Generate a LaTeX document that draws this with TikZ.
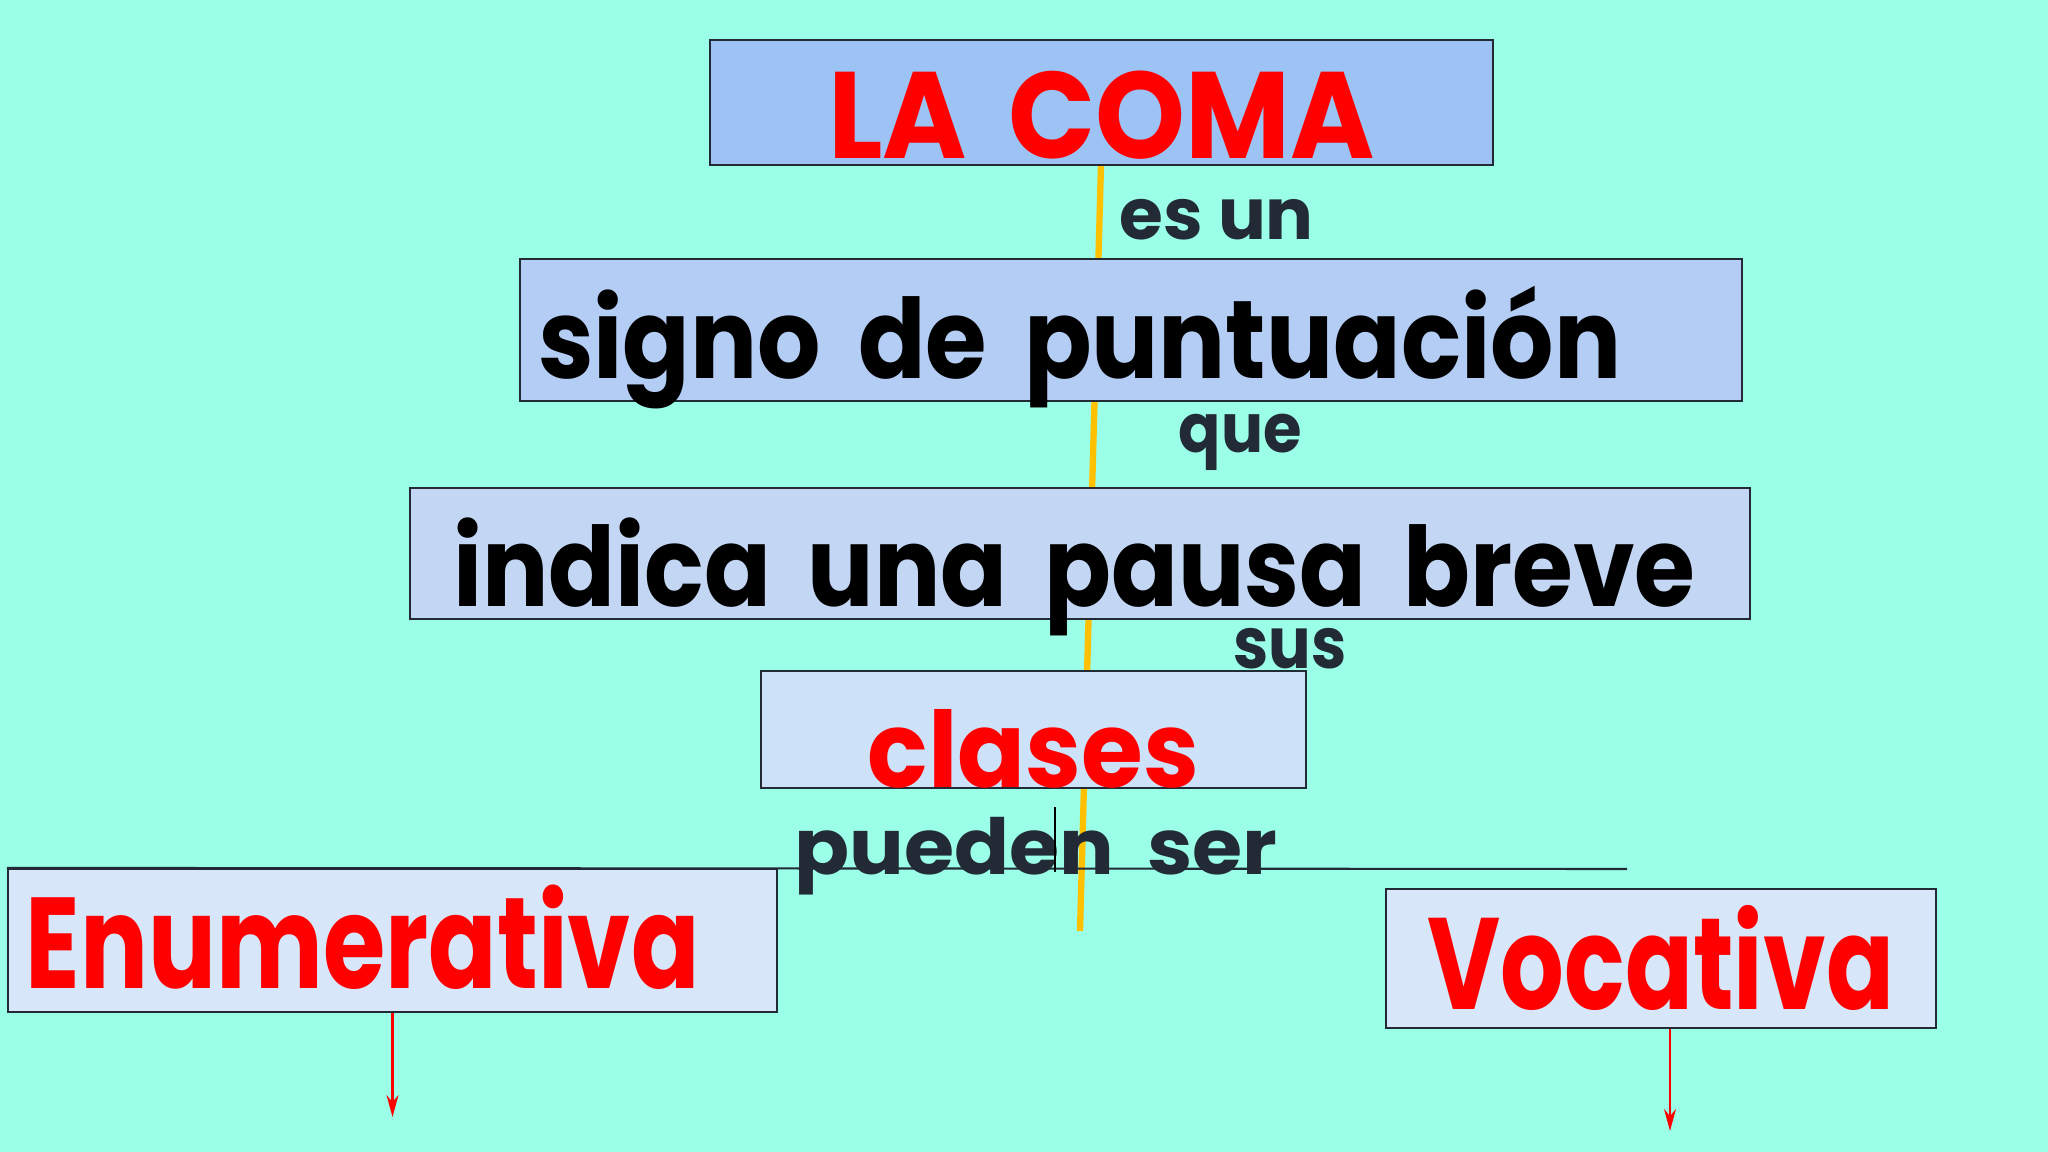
\documentclass[tikz,border=0pt]{standalone}
\usepackage{fontspec}
\setmainfont{Poppins}
\usepackage{xcolor}
\usetikzlibrary{arrows.meta, positioning}

\definecolor{aquabg}{RGB}{155,255,232}
\definecolor{fillcoma}{RGB}{157,195,245}
\definecolor{fillsigno}{RGB}{180,205,245}
\definecolor{fillpausa}{RGB}{195,215,245}
\definecolor{fillclases}{RGB}{205,225,248}
\definecolor{filltipo}{RGB}{215,230,248}
\definecolor{linkgray}{RGB}{34,42,53}
\definecolor{axisgold}{RGB}{255,192,0}
\definecolor{redtext}{RGB}{255,0,0}

% tamano y anchura de letra
\newcommand{\comafont}[2]{\bfseries\fontsize{#1}{#1}\selectfont\addfontfeatures{FakeStretch=#2}}

\begin{document}
\begin{tikzpicture}[
    x=1cm, y=1cm,
    box/.style={draw=linkgray, line width=0.6pt, inner sep=0pt},
    link/.style={anchor=base west, inner sep=0pt, text=linkgray},
    axis/.style={draw=axisgold, line width=1.8pt},
    branch/.style={-{Stealth[length=2.2mm, width=1.2mm]}, draw=redtext, line width=0.6pt}
]

\fill[aquabg] (0,0) rectangle (20.48,11.52);
\useasboundingbox (0,0) rectangle (20.48,11.52);

% eje central
\coordinate (axisTop) at (11.01,9.87);
\coordinate (axisEnd) at (10.80,2.21);
\draw[axis] (axisTop) -- (axisEnd);

\node[box, fill=fillcoma, text=redtext, text width=7.83cm, align=center,
      text height=1.19cm, text depth=0.06cm,
      font=\comafont{35}{0.93}] (coma) at (11.015,10.495) {LA COMA};
\node[box, fill=fillsigno, inner xsep=0.18cm, text width=11.86cm, align=left,
      text height=1.20cm, text depth=0.22cm,
      font=\comafont{31.5}{0.9}] (signo) at (11.31,8.22) {signo de puntuación};
\node[box, fill=fillpausa, inner xsep=0.43cm, text width=12.54cm, align=left,
      text height=1.19cm, text depth=0.12cm,
      font=\comafont{31.5}{0.89}] (pausa) at (10.80,5.985) {indica una pausa breve};
\node[box, fill=fillclases, text=redtext, text width=5.45cm, align=center,
      text height=1.17cm, text depth=0cm,
      font=\comafont{30}{0.95}] (clases) at (10.335,4.225) {clases};

% union
\coordinate (joinEnd) at (16.27,2.83);
\node[box, fill=filltipo, text=redtext, inner xsep=0.18cm, text width=7.33cm, align=left,
      text height=1.20cm, text depth=0.23cm,
      font=\comafont{36.8}{0.78}] (enum) at (3.925,2.115) {Enumerativa};
\node[box, fill=filltipo, text=redtext, text width=5.50cm, align=center,
      text height=1.21cm, text depth=0.18cm,
      font=\comafont{37}{0.77}] (voca) at (16.61,1.935) {Vocativa};
\draw[draw=linkgray, line width=0.6pt] (enum.north west) -- (joinEnd);

\node[link, font=\comafont{20.2}{1}] (esun) at (11.19,9.12) {es un};
\node[link, font=\comafont{19.3}{0.92}] (que) at (11.78,6.99) {que};
\node[link, font=\comafont{20.2}{0.89}] (sus) at (12.33,4.83) {sus};
\node[link, font=\comafont{22}{1.05}] (pueden) at (7.94,2.77) {pueden\hspace{0.2em} ser};

\coordinate (caretTop) at (10.55,3.45);
\coordinate (caretEnd) at (10.55,2.80);
\draw[draw=black, line width=0.3pt] (caretTop) -- (caretEnd);

% flechas
\coordinate (enumEnd) at (3.925,0.35);
\coordinate (vocaEnd) at (16.70,0.21);
\draw[branch] (enum.south) -- (enumEnd);
\draw[branch] (voca.south -| vocaEnd) -- (vocaEnd);

\end{tikzpicture}
\end{document}
